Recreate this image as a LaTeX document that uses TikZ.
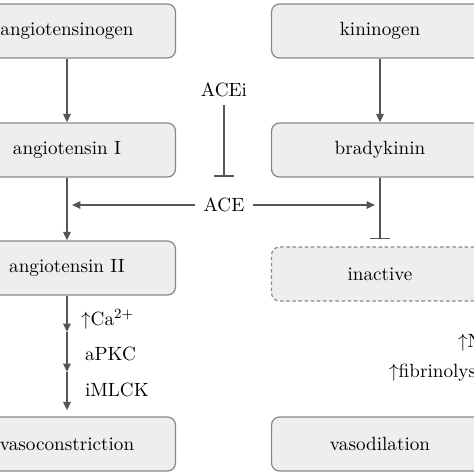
\documentclass[tikz,border=0pt]{standalone}
\usetikzlibrary{arrows.meta}
\definecolor{boxfill}{HTML}{EEEEEE}
\definecolor{boxline}{HTML}{888888}
\definecolor{arrgray}{HTML}{555555}
\begin{document}
\begin{tikzpicture}[x=0.02cm,y=-0.02cm,
		box/.style={draw=boxline, fill=boxfill, rounded corners=0.16cm, minimum width=4.34cm, minimum height=1.08cm, line width=0.7pt, font=\fontsize{10.9}{13}\selectfont},
		dbox/.style={box, dash pattern=on 2pt off 1.5pt},
		arr/.style={draw=arrgray, line width=1pt, -{Triangle[length=0.17cm,width=0.15cm]}},
		inh/.style={draw=arrgray, line width=1pt, -{Bar[width=0.4cm]}},
		lbl/.style={font=\fontsize{10.9}{13}\selectfont, inner sep=1pt}]
	\useasboundingbox (0,0) rectangle (474,474);
	\clip (0,0) rectangle (474,474);
	% left column
	\node [box] (angnogen) at (67,31) {angiotensinogen};
	\node [box] (angone) at (67,150) {angiotensin I};
	\node [box] (angtwo) at (67,268) {angiotensin II};
	\node [box] (vasoc) at (67,444) {vasoconstriction};
	% right column
	\node [box] (kinin) at (380,31) {kininogen};
	\node [box] (brady) at (380,150) {bradykinin};
	\node [dbox] (inact) at (380,274) {inactive};
	\node [box] (vasod) at (380,444) {vasodilation};
	% enzyme
	\node [lbl] (acei) at (224,90) {ACEi};
	\node [lbl, inner sep=5pt] (ace) at (224,205) {ACE};
	\coordinate (lhit) at (72,205);
	\coordinate (rhit) at (375,205);
	\coordinate (cachg) at (67,332);
	\coordinate (pkchg) at (67,372);
	% labels
	\node [lbl, anchor=west] (lca) at (79,319) {$\uparrow$Ca$^{2+}$};
	\node [lbl, anchor=west] (lpkc) at (83,354) {aPKC};
	\node [lbl, anchor=west] (lmlck) at (83,390) {iMLCK};
	\node [lbl, anchor=west] (lno) at (456,343) {$\uparrow$NO};
	\node [lbl, anchor=west] (lfib) at (387,373) {$\uparrow$fibrinolysis};
	% connectors
	\draw [arr] (angnogen) -- (angone);
	\draw [arr] (kinin) -- (brady);
	\draw [arr] (angone) -- (angtwo);
	\draw [arr] (ace) -- (lhit);
	\draw [arr] (ace) -- (rhit);
	\draw [inh, shorten <=0.12cm, shorten >=0.24cm] (acei) -- (ace);
	\draw [inh, shorten >=0.14cm] (brady) -- (inact);
	\draw [arr] (angtwo) -- (cachg);
	\draw [arr] (cachg) -- (pkchg);
	\draw [arr, shorten >=0.12cm] (pkchg) -- (vasoc);
\end{tikzpicture}
\end{document}
